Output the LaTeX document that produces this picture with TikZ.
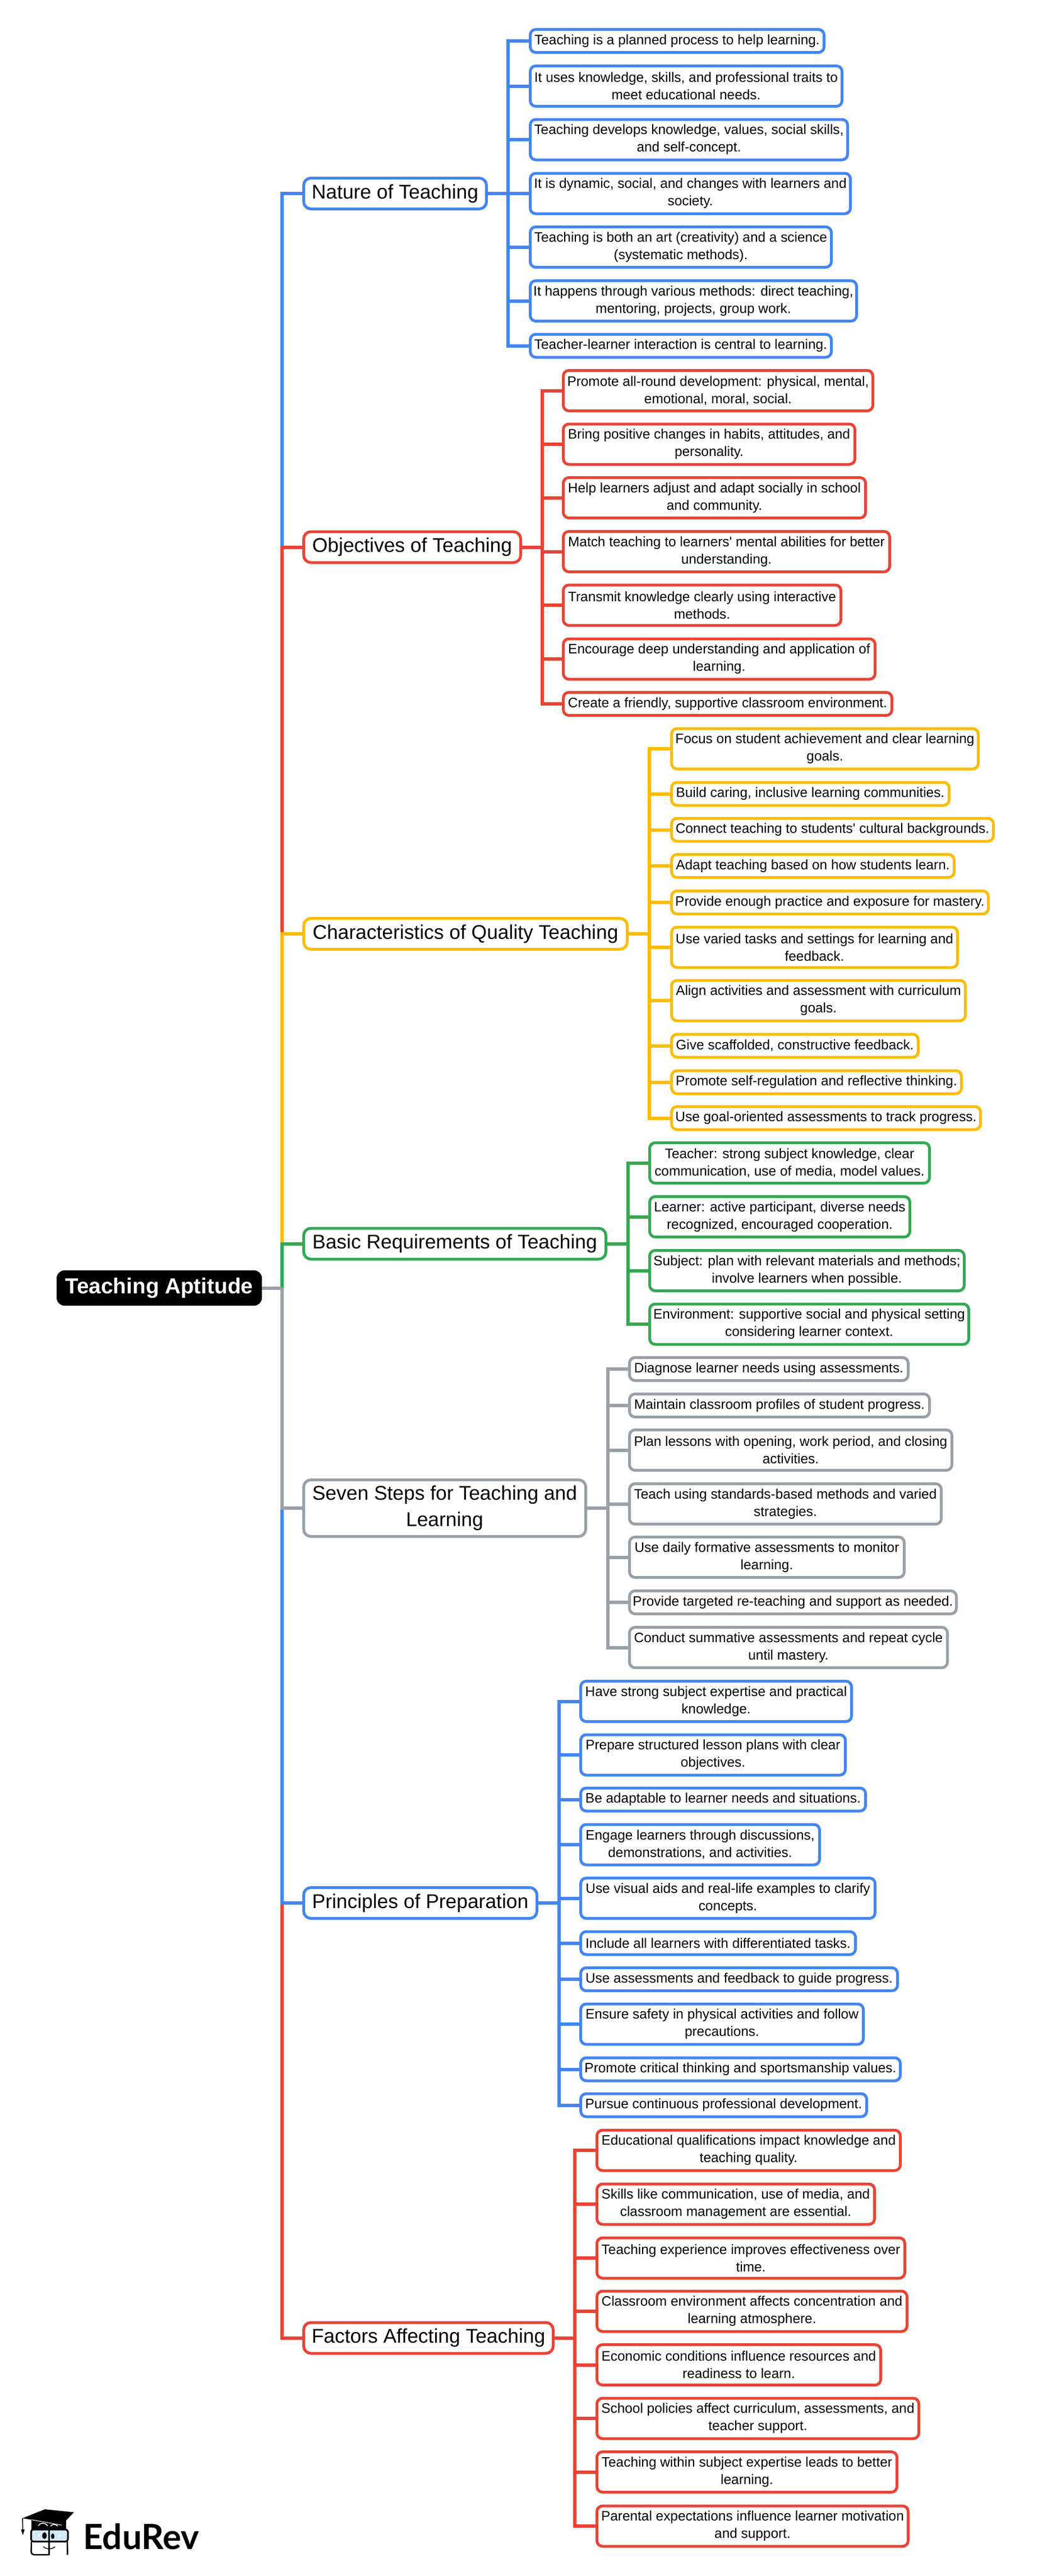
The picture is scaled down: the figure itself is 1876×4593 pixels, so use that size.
\documentclass[tikz,border=0pt]{standalone}
\usepackage{fontspec}
\setmainfont{Liberation Sans}
\newfontfamily\logofont{Lato}
\usetikzlibrary{arrows.meta}
\definecolor{nblue}{HTML}{4285F4}
\definecolor{nred}{HTML}{EA4335}
\definecolor{nyellow}{HTML}{FBBC04}
\definecolor{ngreen}{HTML}{34A853}
\definecolor{ngray}{HTML}{9AA0A6}
\definecolor{nglass}{HTML}{D3E9F8}

\begin{document}
\begin{tikzpicture}
    [   x = 1pt
    ,   y = -1pt
    ,   rootbox/.style =
        {   rectangle
        ,   fill = black
        ,   text = white
        ,   rounded corners = 14pt
        ,   inner sep = 0pt
        ,   outer sep = 0pt
        ,   minimum width = 366pt
        ,   minimum height = 63pt
        ,   font = \fontsize{38.7}{47}\selectfont\bfseries
        }
    ,   branchbox/.style =
        {   draw
        ,   rectangle
        ,   fill = white
        ,   rounded corners = 13pt
        ,   line width = 5pt
        ,   inner sep = 0pt
        ,   outer sep = 0pt
        ,   align = center
        ,   anchor = west
        ,   text = black
        ,   font = \fontsize{35.4}{47}\selectfont
        }
    ,   leafbox/.style =
        {   draw
        ,   rectangle
        ,   fill = white
        ,   rounded corners = 10pt
        ,   line width = 5pt
        ,   inner sep = 0pt
        ,   outer sep = 0pt
        ,   align = center
        ,   anchor = west
        ,   text = black
        ,   font = \fontsize{24.4}{31}\selectfont
        }
    ,   link/.style =
        {   line width = 6pt
        ,   line join = miter
        }
    ]
    \useasboundingbox (0,0) rectangle (1876,4593);

    \node[rootbox] (T) at (284,2296.5) {Teaching Aptitude};
    \coordinate (TBus) at (503,2296.5);

    % main branches
    \foreach\nm/\yc/\rgt/\hgt/\col/\txt in {N/345/870/60/nblue/{Nature of Teaching},
        O/975.5/931/60/nred/{Objectives of Teaching},
        C/1665/1121/60/nyellow/{Characteristics of Quality Teaching},
        B/2217.5/1083/60/ngreen/{Basic Requirements of Teaching},
        S/2689/1047/106/ngray/{Seven Steps for Teaching and\\Learning},
        P/3393/960/60/nblue/{Principles of Preparation},
        F/4168.5/989/60/nred/{Factors Affecting Teaching}}
    {   \node[branchbox,draw=\col,minimum width=\rgt-544,minimum height=\hgt-5]
            (\nm) at (541.5,\yc) {\txt};
    }
    \foreach\nm/\col in {N/nblue,O/nred,C/nyellow,B/ngreen,F/nred,P/nblue,S/ngray}
    {   \draw[link,\col] (TBus) |- (\nm.west);
    }
    \draw[link,ngray] (T.east) -- (TBus);

    % Nature of Teaching
    \coordinate (NBus) at (906,345);
    \draw[link,nblue] (N.east) -- (NBus);
    \foreach\i/\yc/\rgt/\hgt/\txt in {1/73/1472/46/{Teaching is a planned process to help learning.},
        2/153.5/1504/77/{It uses knowledge, skills, and professional traits to\\meet educational needs.},
        3/249/1514/77/{Teaching develops knowledge, values, social skills,\\and self-concept.},
        4/345/1519/77/{It is dynamic, social, and changes with learners and\\society.},
        5/440.5/1485/77/{Teaching is both an art (creativity) and a science\\(systematic methods).},
        6/536.5/1530/77/{It happens through various methods: direct teaching,\\mentoring, projects, group work.},
        7/616.5/1485/46/{Teacher-learner interaction is central to learning.}}
    {   \node[leafbox,draw=nblue,minimum width=\rgt-948,minimum height=\hgt-5]
            (N\i) at (945.5,\yc) {\txt};
        \draw[link,nblue] (NBus) |- (N\i.west);
    }

    % Objectives of Teaching
    \coordinate (OBus) at (966.5,975.5);
    \draw[link,nred] (O.east) -- (OBus);
    \foreach\i/\yc/\rgt/\hgt/\txt in {1/696.5/1559/77/{Promote all-round development: physical, mental,\\emotional, moral, social.},
        2/792/1527/77/{Bring positive changes in habits, attitudes, and\\personality.},
        3/887.5/1546/77/{Help learners adjust and adapt socially in school\\and community.},
        4/983.5/1589/77/{Match teaching to learners\textquotesingle{} mental abilities for better\\understanding.},
        5/1079/1502/77/{Transmit knowledge clearly using interactive\\methods.},
        6/1175/1563/77/{Encourage deep understanding and application of\\learning.},
        7/1255/1593/46/{Create a friendly, supportive classroom environment.}}
    {   \node[leafbox,draw=nred,minimum width=\rgt-1007,minimum height=\hgt-5]
            (O\i) at (1004.5,\yc) {\txt};
        \draw[link,nred] (OBus) |- (O\i.west);
    }

    % Characteristics of Quality Teaching
    \coordinate (CBus) at (1158,1665);
    \draw[link,nyellow] (C.east) -- (CBus);
    \foreach\i/\yc/\rgt/\hgt/\txt in {1/1335/1747/77/{Focus on student achievement and clear learning\\goals.},
        2/1415.5/1695/46/{Build caring, inclusive learning communities.},
        3/1479.5/1774/46/{Connect teaching to students\textquotesingle{} cultural backgrounds.},
        4/1544/1704/46/{Adapt teaching based on how students learn.},
        5/1609/1765/46/{Provide enough practice and exposure for mastery.},
        6/1689/1710/77/{Use varied tasks and settings for learning and\\feedback.},
        7/1784/1724/77/{Align activities and assessment with curriculum\\goals.},
        8/1864.5/1640/46/{Give scaffolded, constructive feedback.},
        9/1929.5/1717/46/{Promote self-regulation and reflective thinking.},
        10/1993.5/1751/46/{Use goal-oriented assessments to track progress.}}
    {   \node[leafbox,draw=nyellow,minimum width=\rgt-1200,minimum height=\hgt-5]
            (C\i) at (1197.5,\yc) {\txt};
        \draw[link,nyellow] (CBus) |- (C\i.west);
    }

    % Basic Requirements of Teaching
    \coordinate (BBus) at (1120,2217.5);
    \draw[link,ngreen] (B.east) -- (BBus);
    \foreach\i/\yc/\rgt/\hgt/\txt in {1/2073.5/1660/77/{Teacher: strong subject knowledge, clear\\communication, use of media, model values.},
        2/2169.5/1625/77/{Learner: active participant, diverse needs\\recognized, encouraged cooperation.},
        3/2265.5/1722/77/{Subject: plan with relevant materials and methods;\\involve learners when possible.},
        4/2361/1730/77/{Environment: supportive social and physical setting\\considering learner context.}}
    {   \node[leafbox,draw=ngreen,minimum width=\rgt-1161,minimum height=\hgt-5]
            (B\i) at (1158.5,\yc) {\txt};
        \draw[link,ngreen] (BBus) |- (B\i.west);
    }

    % Seven Steps for Teaching and Learning
    \coordinate (SBus) at (1084,2689);
    \draw[link,ngray] (S.east) -- (SBus);
    \foreach\i/\yc/\rgt/\hgt/\txt in {1/2441/1622/46/{Diagnose learner needs using assessments.},
        2/2506/1660/46/{Maintain classroom profiles of student progress.},
        3/2585.5/1700/77/{Plan lessons with opening, work period, and closing\\activities.},
        4/2681.5/1681/77/{Teach using standards-based methods and varied\\strategies.},
        5/2776.5/1615/77/{Use daily formative assessments to monitor\\learning.},
        6/2857/1708/46/{Provide targeted re-teaching and support as needed.},
        7/2937.5/1692/77/{Conduct summative assessments and repeat cycle\\until mastery.}}
    {   \node[leafbox,draw=ngray,minimum width=\rgt-1125,minimum height=\hgt-5]
            (S\i) at (1122.5,\yc) {\txt};
        \draw[link,ngray] (SBus) |- (S\i.west);
    }

    % Principles of Preparation
    \coordinate (PBus) at (997,3393);
    \draw[link,nblue] (P.east) -- (PBus);
    \foreach\i/\yc/\rgt/\hgt/\txt in {1/3033.5/1521/77/{Have strong subject expertise and practical\\knowledge.},
        2/3129/1510/77/{Prepare structured lesson plans with clear\\objectives.},
        3/3208.5/1546/46/{Be adaptable to learner needs and situations.},
        4/3289/1464/77/{Engage learners through discussions,\\demonstrations, and activities.},
        5/3384.5/1563/77/{Use visual aids and real-life examples to clarify\\concepts.},
        6/3464.5/1528/46/{Include all learners with differentiated tasks.},
        7/3529/1603/46/{Use assessments and feedback to guide progress.},
        8/3609/1542/77/{Ensure safety in physical activities and follow\\precautions.},
        9/3689.5/1608/46/{Promote critical thinking and sportsmanship values.},
        10/3753.5/1548/46/{Pursue continuous professional development.}}
    {   \node[leafbox,draw=nblue,minimum width=\rgt-1038,minimum height=\hgt-5]
            (P\i) at (1035.5,\yc) {\txt};
        \draw[link,nblue] (PBus) |- (P\i.west);
    }

    % Factors Affecting Teaching
    \coordinate (FBus) at (1025,4168.5);
    \draw[link,nred] (F.east) -- (FBus);
    \foreach\i/\yc/\rgt/\hgt/\txt in {1/3834/1608/77/{Educational qualifications impact knowledge and\\teaching quality.},
        2/3930/1562/77/{Skills like communication, use of media, and\\classroom management are essential.},
        3/4026/1616/77/{Teaching experience improves effectiveness over\\time.},
        4/4121/1620/77/{Classroom environment affects concentration and\\learning atmosphere.},
        5/4216.5/1573/77/{Economic conditions influence resources and\\readiness to learn.},
        6/4312/1641/77/{School policies affect curriculum, assessments, and\\teacher support.},
        7/4407.5/1602/77/{Teaching within subject expertise leads to better\\learning.},
        8/4504/1622/77/{Parental expectations influence learner motivation\\and support.}}
    {   \node[leafbox,draw=nred,minimum width=\rgt-1067,minimum height=\hgt-5]
            (F\i) at (1064.5,\yc) {\txt};
        \draw[link,nred] (FBus) |- (F\i.west);
    }

    % logo
    \fill (56,4493) rectangle (118,4510);
    \fill (40,4490) -- (80,4474) -- (131.7,4479.3) -- (110,4502.3) -- (56.7,4492.7) -- cycle;
    \draw[line width=1pt,white] (110,4502.3) -- (56.7,4492.7);
    \draw[line width=1.5pt] (40,4490) -- (40.7,4510);
    \fill (37.5,4510) -- (44,4510) -- (40.7,4520) -- cycle;
    \draw[line width=1.5pt,white] (68.3,4503.5) .. controls (72,4497) and (80,4497) .. (85,4503.5);
    \draw[line width=1.5pt,white] (90,4504) .. controls (94,4500) and (99,4500) .. (103,4504);
    \draw[line width=3pt,fill=nglass,rounded corners=4pt] (55.5,4510) rectangle (121,4531.5);
    \draw[line width=2.5pt] (87.7,4510) -- (87.7,4556);
    \fill (79.3,4521) ellipse [x radius=4, y radius=6];
    \fill (94,4522) ellipse [x radius=3, y radius=5];
    \fill[white] (67.5,4519) rectangle (71,4522.5);
    \fill[white] (104,4519) rectangle (107.5,4522.5);
    \draw[line width=2.5pt,rounded corners=5pt] (56,4532) -- (55.5,4555) -- (87,4555);
    \draw[line width=2.5pt,rounded corners=5pt] (120,4532) -- (120.5,4555);
    \draw[line width=1.5pt] (77.3,4540.7) .. controls (84,4546) and (92,4546) .. (98.3,4540.7);
    \node[anchor=base west,inner sep=0pt,font=\logofont\fontsize{62}{62}\selectfont\bfseries]
        (E) at (148,4545) {EduRev};
\end{tikzpicture}
\end{document}
